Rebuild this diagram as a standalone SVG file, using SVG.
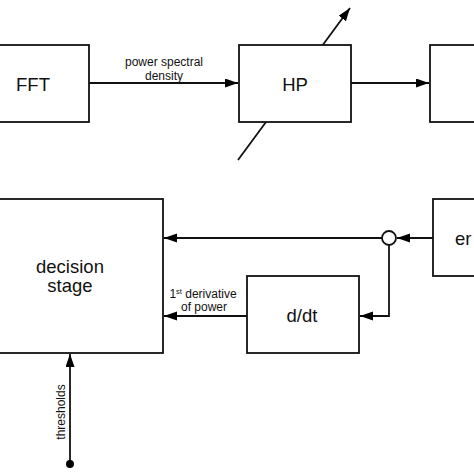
<svg xmlns="http://www.w3.org/2000/svg" width="474" height="474" viewBox="0 0 474 474">
<defs>
<marker id="arr" markerUnits="userSpaceOnUse" markerWidth="14" markerHeight="10" refX="13" refY="4.5" orient="auto">
<path d="M0,0 L13,4.5 L0,9 z" fill="#000"/>
</marker>
<style>
.box{fill:#fff;stroke:#111;stroke-width:1.8}
.ln{fill:none;stroke:#111;stroke-width:1.8}
.big{font-family:"Liberation Sans",Arial,sans-serif;font-size:18.5px;fill:#111;text-anchor:middle}
.sm{font-family:"Liberation Sans",Arial,sans-serif;font-size:12px;fill:#111;text-anchor:middle}
</style>
</defs>
<rect width="474" height="474" fill="#fff"/>
<g id="connectors">
<line class="ln" x1="238" y1="160" x2="350" y2="8" marker-end="url(#arr)"/>
<line class="ln" x1="89" y1="83" x2="238" y2="83" marker-end="url(#arr)"/>
<line class="ln" x1="351" y1="83" x2="429" y2="83" marker-end="url(#arr)"/>
<line class="ln" x1="433" y1="238" x2="397" y2="238" marker-end="url(#arr)"/>
<line class="ln" x1="382" y1="238" x2="164" y2="238" marker-end="url(#arr)"/>
<polyline class="ln" points="389,245 389,316 360,316" marker-end="url(#arr)"/>
<line class="ln" x1="247" y1="316" x2="164" y2="316" marker-end="url(#arr)"/>
<line class="ln" x1="70" y1="464" x2="70" y2="354" marker-end="url(#arr)"/>
<circle cx="70" cy="464" r="4" fill="#000"/>
<text class="sm" x="164" y="66">power spectral</text>
<text class="sm" x="164" y="80">density</text>
<text class="sm" x="203" y="298">1<tspan font-size="7.5" dy="-4">st</tspan><tspan dy="4"> derivative</tspan></text>
<text class="sm" x="204" y="311">of power</text>
<text class="sm" transform="translate(65,412) rotate(-90)">thresholds</text>
</g>
<g id="fft"><rect class="box" x="-5" y="45" width="94" height="77"/><text class="big" x="33" y="91">FFT</text></g>
<g id="hp"><rect class="box" x="239" y="45" width="112" height="77"/><text class="big" x="295" y="91">HP</text></g>
<g id="topright"><rect class="box" x="430" y="45" width="60" height="77"/></g>
<g id="energy"><rect class="box" x="433" y="199" width="60" height="77"/><text class="big" x="455" y="245" style="text-anchor:start">er</text></g>
<g id="junction"><circle cx="389" cy="238" r="7" fill="#fff" stroke="#111" stroke-width="1.8"/></g>
<g id="decision"><rect class="box" x="-5" y="199" width="168" height="154"/><text class="big" x="70" y="273">decision</text><text class="big" x="70" y="292">stage</text></g>
<g id="ddt"><rect class="box" x="247" y="276" width="112" height="77"/><text class="big" x="302" y="322">d/dt</text></g>
</svg>
